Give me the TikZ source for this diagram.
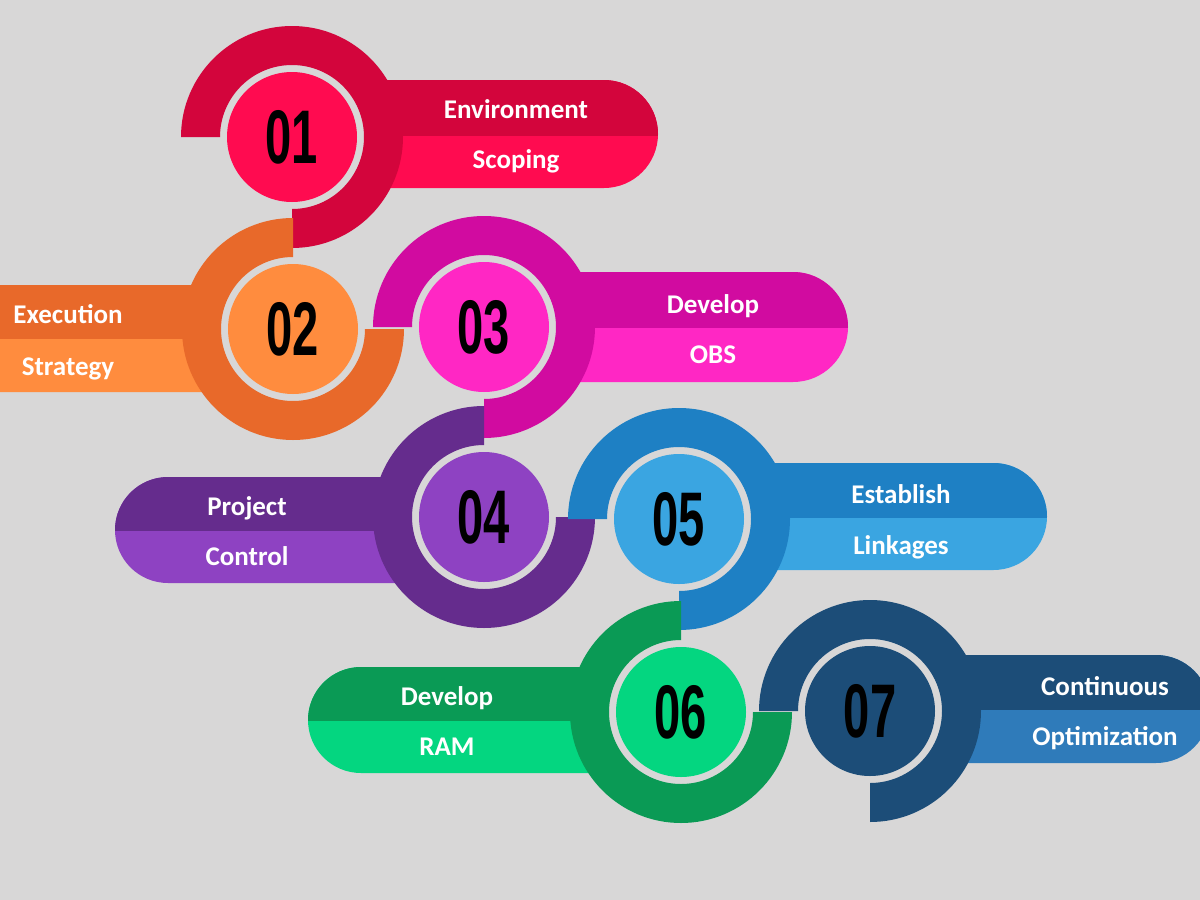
\documentclass[tikz,border=0pt]{standalone}
\usepackage{fontspec}
\setmainfont{Carlito}
\newfontfamily\numfont{Liberation Sans}
\usetikzlibrary{calc}
\definecolor{bg}{HTML}{D8D7D7}
\definecolor{rA}{HTML}{D3053C}\definecolor{lA}{HTML}{FF0B50}
\definecolor{rB}{HTML}{E8692A}\definecolor{lB}{HTML}{FF8C3E}
\definecolor{rC}{HTML}{D10BA0}\definecolor{lC}{HTML}{FF27C4}
\definecolor{rD}{HTML}{652C8D}\definecolor{lD}{HTML}{8E42C2}
\definecolor{rE}{HTML}{1E80C4}\definecolor{lE}{HTML}{3AA5E1}
\definecolor{rF}{HTML}{0A9A55}\definecolor{lF}{HTML}{04D680}
\definecolor{rG}{HTML}{1C4D78}\definecolor{lG}{HTML}{2F7BBA}
\def\Ro{111}
\def\Ri{72}
% annular sector: colour, cx, cy, start angle, end angle
\newcommand\annsec[5]{%
  \fill[#1] ($(#2,#3)+(#4:\Ro)$) arc[start angle=#4, end angle=#5, radius=\Ro]
    -- ($(#2,#3)+(#5:\Ri)$) arc[start angle=#5, end angle=#4, radius=\Ri] -- cycle;}
% right banner: dark, light, x0, top, split, bottom, right end
\newcommand\rbanner[7]{%
  \pgfmathsetmacro\hh{(#6-#4)/2}%
  \pgfmathsetmacro\xc{#7-\hh}%
  \fill[#2] (#3,#4) -- (\xc,#4) arc[start angle=270, end angle=450, radius=\hh] -- (#3,#6) -- cycle;
  \begin{scope}
    \clip (#3,#4) rectangle (#7+5,#5);
    \fill[#1] (#3,#4) -- (\xc,#4) arc[start angle=270, end angle=450, radius=\hh] -- (#3,#6) -- cycle;
  \end{scope}}
% left banner: dark, light, x0 (right edge), top, split, bottom, left end
\newcommand\lbanner[7]{%
  \pgfmathsetmacro\hh{(#6-#4)/2}%
  \pgfmathsetmacro\xc{#7+\hh}%
  \fill[#2] (#3,#4) -- (\xc,#4) arc[start angle=270, end angle=90, radius=\hh] -- (#3,#6) -- cycle;
  \begin{scope}
    \clip (#7-5,#4) rectangle (#3,#5);
    \fill[#1] (#3,#4) -- (\xc,#4) arc[start angle=270, end angle=90, radius=\hh] -- (#3,#6) -- cycle;
  \end{scope}}
\tikzset{
  disk/.style={circle, minimum size=130pt, inner sep=0pt, text=black,
    font=\numfont\bfseries\fontsize{76}{76}\selectfont},
  lbl/.style={anchor=base, text=white, inner sep=0pt,
    font=\bfseries\fontsize{27}{27}\selectfont}
}
\newcommand\nums[1]{\scalebox{0.62}[1]{#1}}
\begin{document}
\begin{tikzpicture}[x=1pt,y=-1pt]
\useasboundingbox (0,0) rectangle (1200,900);
\fill[bg] (0,0) rectangle (1200,900);
\begin{scope}
\clip (0,0) rectangle (1200,900);
% banners
\rbanner{rA}{lA}{367}{80}{135}{188}{658}
\lbanner{rB}{lB}{218}{285}{338}{392}{-60}
\rbanner{rC}{lC}{559}{272}{327}{382}{848}
\lbanner{rD}{lD}{409}{477}{530}{583}{115}
\rbanner{rE}{lE}{754}{463}{517}{570}{1047}
\lbanner{rF}{lF}{605}{667}{720}{773}{308}
\rbanner{rG}{lG}{945}{655}{709}{763}{1210}
% rings
\annsec{rA}{292}{137}{180}{450}
\annsec{rB}{293}{329}{270}{0}
\annsec{rC}{484}{327}{180}{450}
\annsec{rD}{484}{517}{270}{0}
\annsec{rE}{679}{519}{180}{450}
\annsec{rF}{681}{712}{270}{0}
\annsec{rG}{870}{711}{180}{450}
\end{scope}
% disks with numbers
\node[disk, fill=lA] (d1) at (292,137) {\nums{01}};
\node[disk, fill=lB] (d2) at (293,329) {\nums{02}};
\node[disk, fill=lC] (d3) at (484,327) {\nums{03}};
\node[disk, fill=lD] (d4) at (484,517) {\nums{04}};
\node[disk, fill=lE] (d5) at (679,519) {\nums{05}};
\node[disk, fill=lF] (d6) at (681,712) {\nums{06}};
\node[disk, fill=rG] (d7) at (870,711) {\nums{07}};
% labels
\node[lbl] (t1a) at (516,118) {Environment};
\node[lbl] (t1b) at (516,168) {Scoping};
\node[lbl] (t2a) at (68,323) {Execution};
\node[lbl] (t2b) at (68,375) {Strategy};
\node[lbl] (t3a) at (713,313) {Develop};
\node[lbl] (t3b) at (713,363) {OBS};
\node[lbl] (t4a) at (247,515) {Project};
\node[lbl] (t4b) at (247,565) {Control};
\node[lbl] (t5a) at (901,503) {Establish};
\node[lbl] (t5b) at (901,554) {Linkages};
\node[lbl] (t6a) at (447,705) {Develop};
\node[lbl] (t6b) at (447,755) {RAM};
\node[lbl] (t7a) at (1105,695) {Continuous};
\node[lbl] (t7b) at (1105,745) {Optimization};
\end{tikzpicture}
\end{document}
